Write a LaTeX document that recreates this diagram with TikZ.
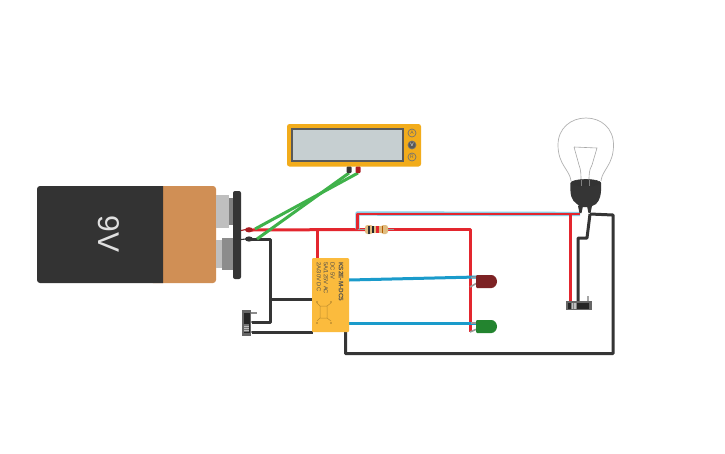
\documentclass[tikz,border=0pt]{standalone}
\usepackage{fontspec}
\setmainfont{Liberation Sans}
\definecolor{wred}{HTML}{E3262E}
\definecolor{wblue}{HTML}{1A9BCB}
\definecolor{wgreen}{HTML}{3FB24A}
\definecolor{wdark}{HTML}{353535}
\definecolor{batdark}{HTML}{333333}
\definecolor{batorange}{HTML}{D08F55}
\definecolor{metor}{HTML}{F2AC1B}
\definecolor{relay}{HTML}{FBBB3D}
\definecolor{screen}{HTML}{C6CFD1}
\definecolor{ledred}{HTML}{7D2224}
\definecolor{ledgreen}{HTML}{23842F}
\definecolor{restan}{HTML}{E0BC80}
\tikzset{
 wire/.style={line width=3pt,line join=round},
 redw/.style={wire,draw=wred},
 bluew/.style={wire,draw=wblue},
 darkw/.style={wire,draw=wdark},
 greenw/.style={wire,draw=wgreen},
 leg/.style={line width=1.6pt,draw=black!40},
 btn/.style={circle,draw=black!55,line width=0.7pt,minimum size=8pt,inner sep=0pt,font=\fontsize{5}{5}\selectfont,text=black!60},
 rel/.style={rotate=-90,anchor=west,inner sep=0pt,text=black!70,font=\fontsize{5.8}{5.8}\selectfont},
}
\begin{document}
\begin{tikzpicture}[x=1pt,y=-1pt]
\useasboundingbox[fill=white] (0,0) rectangle (725,453);
% named connection points
\coordinate (batR) at (252,230);
\coordinate (batB) at (252,239);
\coordinate (probeK) at (349,173);
\coordinate (probeR) at (358,173);
\coordinate (resL) at (365,229.5);
\coordinate (resR) at (388,229.5);
\coordinate (relT) at (317,259);
\coordinate (relLa) at (313,299);
\coordinate (relLb) at (313,332);
\coordinate (relRa) at (349,280);
\coordinate (relRb) at (349,323);
\coordinate (relB) at (345.5,332);
\coordinate (swA) at (252,322);
\coordinate (swB) at (252,332);
\coordinate (ledRa) at (477,277);
\coordinate (ledGa) at (477,323);
\coordinate (bulbA) at (580,214);
\coordinate (bulbB) at (590,214);
\coordinate (slA) at (570,301);
\coordinate (slB) at (578,301);
% battery
\fill[batorange,rounded corners=3pt] (150,186) rectangle (216,283);
\fill[batdark] (163,186) -- (163,283) -- (40,283) arc (90:180:3) -- (37,189) arc (180:270:3) -- cycle;
\node[rotate=-90,text=white!88!black,font=\fontsize{30}{30}\selectfont] (nine) at (109,234) {9V};
% terminals
\fill[black!25] (216,195) rectangle (229,228);
\fill[black!50] (229,198) rectangle (233,225);
\fill[black!25] (216,240) rectangle (222,268);
\fill[black!45] (222,238) rectangle (233,270);
\fill[wdark,rounded corners=2pt] (233,191) rectangle (241,279);
% wires
\draw[darkw] (batB) -- (270,239) -- (270,322) -- (swA);
\draw[darkw] (270,299) -- (relLa);
\draw[darkw] (swB) -- (relLb);
\draw[redw] (batR) -- (resL);
\draw[redw] (317,230) -- (relT);
\draw[redw] (resR) -- (470,229.5) -- (470,332);
\draw[line width=4.4pt,draw=wblue!50!white,line join=round] (357.5,229) -- (357.5,213.5) -- (bulbA);
\draw[redw,line width=2.6pt] (357.5,229) -- (357.5,214) -- (bulbA);
\draw[redw] (570,215) -- (slA);
\draw[darkw] (bulbB) -- (613,215) -- (613,353.5) -- (345.5,353.5) -- (relB);
\draw[darkw] (590,214) -- (587,238) -- (578,238) -- (slB);
\draw[bluew] (relRa) -- (ledRa);
\draw[bluew] (relRb) -- (ledGa);
\draw[greenw] (255,229) -- (probeR);
\draw[greenw] (257,239) -- (probeK);
% battery clips
\draw[line width=1.1pt,draw=wred!70!black] (241,230.5) -- (246,229.5);
\draw[line width=1.1pt,draw=wdark] (241,239.5) -- (246,239);
\fill[wred!75!black] (249,229.8) ellipse (4 and 2.6);
\fill[wdark] (249,239) ellipse (4 and 2.6);
% multimeter
\fill[metor,rounded corners=2.5pt] (287,124) rectangle (421,166.5);
\draw[fill=screen,draw=black!65,line width=1.6pt] (292,129) rectangle (403,161);
\node[btn] (btnA) at (412,133) {A};
\node[btn,fill=black!65,text=white] (btnV) at (412,145) {V};
\node[btn] (btnR) at (412,157) {R};
\fill[wdark,rounded corners=1pt] (346.5,166.5) rectangle (351.5,173);
\fill[wred!75!black,rounded corners=1pt] (355.5,166.5) rectangle (360.5,173);
% resistor
\draw[leg] (358,229.5) -- (resL);
\draw[leg] (resR) -- (394,229.5);
\fill[restan,rounded corners=2.5pt] (365,225) rectangle (373,234);
\fill[restan,rounded corners=2.5pt] (381,225) rectangle (388,234);
\fill[restan] (370,226) rectangle (384,233);
\fill[black!80] (368,225.5) rectangle (370,233.5);
\fill[black!85] (372,226) rectangle (374,233);
\fill[wred] (376,226) rectangle (378.5,233);
\fill[black!30!orange] (381.5,226) rectangle (383,233);
% relay
\fill[relay,rounded corners=1pt] (312,258) rectangle (349,332);
\node[rel,font=\fontsize{6.4}{6.4}\selectfont\bfseries] (relayName) at (341,262) {KS2E-M-DC5};
\node[rel] (relayA) at (332.5,262) {DC 5V};
\node[rel] (relayB) at (326,262) {5A/125V AC};
\node[rel] (relayC) at (319,262) {2A/30V DC};
\draw[line width=0.5pt,draw=black!25!relay] (317,303) -- (320,306) (331,303) -- (327,306) (320,306) rectangle (327,318) (320,318) -- (317,321) (327,318) -- (331,321);
\fill[black!35!relay] (317,302) circle (0.8) (331,302) circle (0.8) (317,323) circle (0.8) (331,323) circle (0.8);
% left switch
\draw[line width=1.6pt,draw=black!45] (250,313) -- (257,313);
\draw[line width=1.6pt,draw=black!45] (250,322) -- (swA);
\draw[line width=1.6pt,draw=black!45] (250,332) -- (swB);
\fill[black!60] (242,310) rectangle (251,336);
\fill[black!85] (243.5,313) rectangle (249.5,333);
\fill[black!55] (244,324) rectangle (249,332);
\draw[black!25,line width=0.5pt] (244,326) -- (249,326) (244,328) -- (249,328) (244,330) -- (249,330);
% LEDs
\draw[leg] (471,277.5) -- (ledRa);
\draw[leg] (470,287) -- (477,283);
\draw[leg] (471,323) -- (ledGa);
\draw[leg] (470,332) -- (477,329);
\fill[ledred,rounded corners=1pt] (476,275) -- (490.5,275) arc (-90:90:6.5) -- (476,288) -- cycle;
\fill[ledgreen,rounded corners=1pt] (476,320) -- (490.5,320) arc (-90:90:6.5) -- (476,333) -- cycle;
% bulb
\draw[black!30,line width=0.7pt,fill=white] (571,181) .. controls (570,170) and (558,165) .. (558,145) .. controls (558,128) and (571,118) .. (586,118) .. controls (601,118) and (613.5,128) .. (613.5,145) .. controls (613.5,165) and (602,170) .. (601,181);
\draw[black!35,line width=0.6pt] (574,147) -- (597,148) -- (592,165) .. controls (589,170) and (589,175) .. (589,181) (574,147) -- (579,165) .. controls (581,170) and (581,175) .. (581,181);
\fill[wdark] (570.5,183) .. controls (570,195) and (571,200) .. (577,204) -- (580,207) -- (590,207) -- (596,204) .. controls (600,200) and (601.5,195) .. (601,183) -- cycle;
\draw[fill=black!80,draw=wdark,line width=0.6pt] (585.8,183) ellipse (15 and 3.5);
\draw[black!50,line width=0.5pt] (581,180) -- (581,186) (589,180) -- (589,186);
\fill[wdark] (578,206) -- (583,206) -- (581.5,213) -- (579.5,213) -- cycle;
\fill[wdark] (587,206) -- (592,206) -- (590.5,213) -- (588.5,213) -- cycle;
% slide switch
\draw[line width=2pt,draw=black!35] (588,296) -- (588,302);
\fill[black!60] (566,301) rectangle (592,310);
\fill[black!85] (568,303) rectangle (589,309);
\fill[black!50] (571,303) rectangle (577,309);
\draw[black!25,line width=0.4pt] (572.5,303) -- (572.5,309) (574,303) -- (574,309) (575.5,303) -- (575.5,309);
\end{tikzpicture}
\end{document}
